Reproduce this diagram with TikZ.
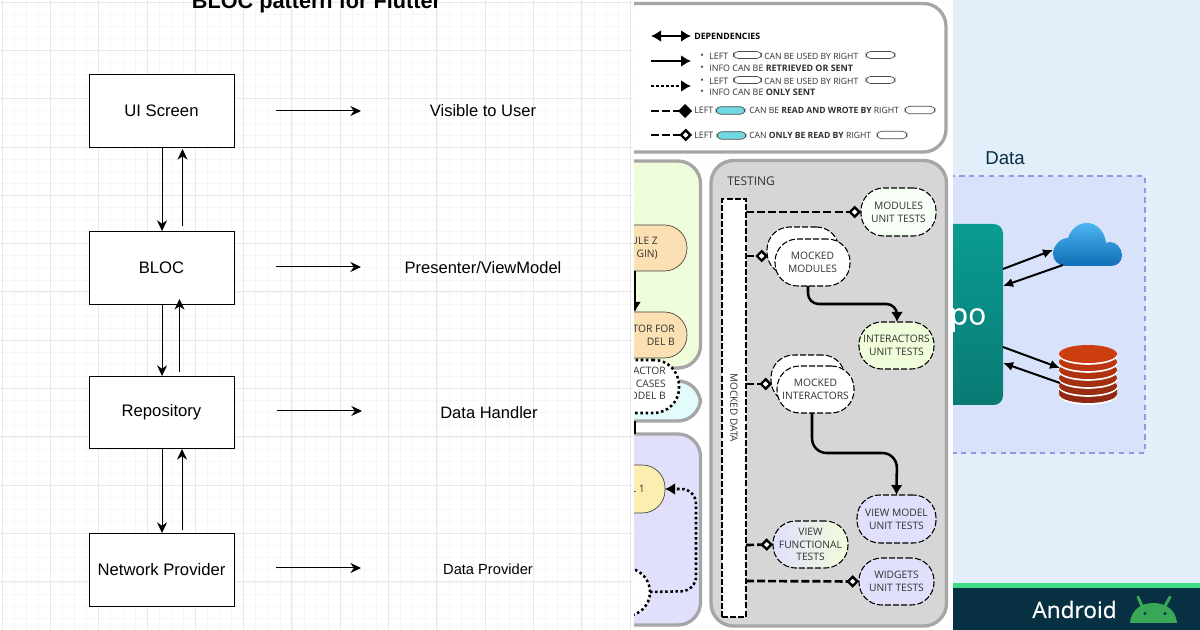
\documentclass[tikz,border=0pt]{standalone}
\usepackage{fontspec}
\setmainfont{Liberation Sans}
\newfontfamily\opn{Open Sans}
\newfontfamily\opnm[FakeBold=0.4]{Open Sans}
\usetikzlibrary{arrows.meta,calc,positioning}
\definecolor{gridmin}{HTML}{F6F6F6}
\definecolor{gridmaj}{HTML}{E8E8E8}
\definecolor{panelgray}{HTML}{A6A6A6}
\definecolor{testfill}{HTML}{D6D6D6}
\definecolor{greenfill}{HTML}{F0FDDB}
\definecolor{lilac}{HTML}{E0E0FC}
\definecolor{cyanfill}{HTML}{E2FBFB}
\definecolor{orangefill}{HTML}{FBE0B4}
\definecolor{yellowfill}{HTML}{FCEDB0}
\definecolor{pillcyan}{HTML}{6FD8E0}
\definecolor{txt}{HTML}{303030}
\definecolor{rightbg}{HTML}{E3EEFB}
\definecolor{datafill}{HTML}{D8E3FB}
\definecolor{datadash}{HTML}{8F9BE0}
\definecolor{droidgreen}{HTML}{3AA757}
\definecolor{navy}{HTML}{073042}
\definecolor{stripgreen}{HTML}{3DDC84}
\definecolor{tealtop}{HTML}{0A9C92}
\definecolor{tealbot}{HTML}{087A73}
\definecolor{cloudtop}{HTML}{4EB4F0}
\definecolor{cloudbot}{HTML}{0E6EB6}
\definecolor{dbbase}{HTML}{8F2A10}
\tikzset{
  sz/.style 2 args={minimum width=#1*0.75pt,minimum height=#2*0.75pt,inner sep=0pt,outer sep=0pt},
  flowbox/.style={draw=black,line width=0.7pt,fill=white,font=\fontsize{12.5}{15}\selectfont,align=center},
  flowarrow/.style={draw=black,line width=0.75pt,-{Stealth[length=8pt,width=7.5pt]}},
  flowlabel/.style={font=\fontsize{12.4}{15}\selectfont,inner sep=0pt},
  panel/.style={draw=panelgray,line width=2.5pt,rounded corners=17pt},
  tnode/.style={draw=black,line width=0.8pt,dash pattern=on 4.5pt off 1.6pt,rounded corners=17pt,align=center,
    text=txt,font=\opn\fontsize{7.7}{9.6}\selectfont},
  snode/.style={draw=black!75,line width=0.5pt,rounded corners=17pt,align=center,
    text=txt,font=\opn\fontsize{7.7}{9.6}\selectfont},
  frag/.style={anchor=east,inner sep=0pt,text=txt,font=\opn\fontsize{7.7}{9.6}\selectfont,align=right},
  leg/.style={font=\opn\fontsize{6.7}{8}\selectfont,text=txt,anchor=west,inner sep=0pt},
  legn/.style={leg,font=\opn\fontsize{6.45}{8}\selectfont},
  pillw/.style={draw=black!70,line width=0.5pt,fill=white,rounded corners=3.4pt,sz={29}{9}},
  pillc/.style={draw=black!70,line width=0.5pt,fill=pillcyan,rounded corners=3.4pt,sz={29}{9}},
  solidarrow/.style={draw=black,line width=1.9pt,-{Latex[length=7.5pt,width=9pt]}},
  dotarrow/.style={draw=black,line width=1.9pt,dash pattern=on 1.9pt off 1.9pt,-{Latex[length=7.5pt,width=9pt]}},
  dashdiamond/.style={draw=black,line width=2pt,dash pattern=on 6pt off 2.3pt,-{Diamond[fill=white,length=9.5pt,width=9.5pt,line width=1.8pt]}},
  fulldiamond/.style={draw=black,line width=2pt,dash pattern=on 6pt off 2.3pt,-{Diamond[length=10.5pt,width=10.5pt]}},
  dataarrow/.style={draw=black,line width=1.5pt,-{Latex[length=7.5pt,width=7pt]}},
}
\begin{document}
\begin{tikzpicture}[x=0.75pt,y=-0.75pt]
\useasboundingbox (0,0) rectangle (1200,630);
% ---------- left panel ----------
\fill[white] (0,0) rectangle (634,630);
\begin{scope}
\clip (0,0) rectangle (633,630);
\foreach \k in {0,...,53} {
  \draw[gridmin,line width=0.4pt] ({2+12.08*\k},0) -- ({2+12.08*\k},630);
  \draw[gridmin,line width=0.4pt] (0,{2+12.08*\k}) -- (633,{2+12.08*\k});
}
\foreach \k in {0,...,13} {
  \draw[gridmaj,line width=0.5pt] ({2+48.3*\k},0) -- ({2+48.3*\k},630);
  \draw[gridmaj,line width=0.5pt] (0,{2+48.3*\k}) -- (633,{2+48.3*\k});
}
\node[font=\bfseries\fontsize{16.25}{18}\selectfont,inner sep=0pt] (title) at (316.5,3) {BLOC pattern for Flutter};
\end{scope}
\node[flowbox,sz={145}{73}] (ui) at (161.5,110.5) {UI Screen};
\node[flowbox,sz={145}{73}] (bloc) at (161.5,267.5) {BLOC};
\node[flowbox,sz={145}{72}] (repo) at (161.5,412) {Repository};
\node[flowbox,sz={145}{73}] (net) at (161.5,569.5) {Network Provider};
\draw[flowarrow] ([xshift=0.4pt]ui.south) -- ([xshift=0.4pt]bloc.north);
\draw[flowarrow] ($(bloc.north)+(21,-5)$) -- ($(ui.south)+(21,2)$);
\draw[flowarrow] ([xshift=0.4pt]bloc.south) -- ([xshift=0.4pt]repo.north);
\draw[flowarrow] ($(repo.north)+(18,-4)$) -- ($(bloc.south)+(18,-5)$);
\draw[flowarrow] ([xshift=0.4pt]repo.south) -- ([xshift=0.4pt]net.north);
\draw[flowarrow] ($(net.north)+(20.5,-3)$) -- ($(repo.south)+(20.5,1)$);
\node[flowlabel] (l1) at (483,111) {Visible to User};
\node[flowlabel] (l2) at (483,268) {Presenter/ViewModel};
\node[flowlabel] (l3) at (489,412.5) {Data Handler};
\node[flowlabel,font=\fontsize{11}{13}\selectfont] (l4) at (488,569) {Data Provider};
\coordinate (a1) at (276,111); \coordinate (b1) at (361,111);
\coordinate (a2) at (276,267); \coordinate (b2) at (361,267);
\coordinate (a3) at (277,411); \coordinate (b3) at (362,411);
\coordinate (a4) at (276,568); \coordinate (b4) at (361,568);
\draw[flowarrow] (a1) -- (b1);
\draw[flowarrow] (a2) -- (b2);
\draw[flowarrow] (a3) -- (b3);
\draw[flowarrow] (a4) -- (b4);
% ---------- middle panel ----------
\begin{scope}
\clip (634,0) rectangle (953,630);
\fill[white] (634,0) rectangle (953,630);
\foreach \i in {0,...,20} \foreach \j in {0,...,39}
  \fill[black!13] ({640+16*\i},{3+16*\j}) circle (0.55);
% legend
\draw[panel,fill=white] (600,3.5) rectangle (946,152);
\coordinate (d1a) at (651,36); \coordinate (d1b) at (691,36);
\coordinate (d2a) at (651,61); \coordinate (d2b) at (691,61);
\coordinate (d3a) at (651,86); \coordinate (d3b) at (691,86);
\coordinate (d4a) at (651,111); \coordinate (d4b) at (692,111);
\coordinate (d5a) at (651,135); \coordinate (d5b) at (692,135);
\draw[solidarrow,{Latex[length=7.5pt,width=9pt]}-{Latex[length=7.5pt,width=9pt]}] (d1a) -- (d1b);
\draw[solidarrow] (d2a) -- (d2b);
\draw[dotarrow] (d3a) -- (d3b);
\draw[fulldiamond] (d4a) -- (d4b);
\draw[dashdiamond] (d5a) -- (d5b);
\node[leg,font=\opn\bfseries\fontsize{6.6}{8}\selectfont,text=black] (tdep) at (694,36) {DEPENDENCIES};
\node[leg] (b1a) at (700,56) {•};
\node[leg] (t1) at (709,56) {LEFT};
\node[pillw,sz={28}{7}] (p1) at (747.5,55) {};
\node[legn] (t2) at (764,56) {CAN BE USED BY RIGHT};
\node[pillw,sz={29}{7}] (p2) at (880.5,55) {};
\node[leg] (b1b) at (700,68) {•};
\node[leg] (t3) at (709,68) {INFO CAN BE \textbf{RETRIEVED OR SENT}};
\node[leg] (b2a) at (700,81) {•};
\node[leg] (t4) at (709,81) {LEFT};
\node[pillw,sz={28}{7}] (p3) at (747.5,80) {};
\node[legn] (t5) at (764,81) {CAN BE USED BY RIGHT};
\node[pillw,sz={29}{7}] (p4) at (880.5,80) {};
\node[leg] (b2b) at (700,92) {•};
\node[leg] (t6) at (709,92) {INFO CAN BE \textbf{ONLY SENT}};
\node[leg] (t7) at (694,110.5) {LEFT};
\node[pillc,sz={29}{7.5}] (p5) at (730.5,110.5) {};
\node[legn] (t8) at (749,110.5) {CAN BE \textbf{READ AND WROTE BY} RIGHT};
\node[pillw,sz={30}{7.5}] (p6) at (920,110) {};
\node[leg] (t9) at (694,135.5) {LEFT};
\node[pillc,sz={29}{7.5}] (p7) at (731.5,135.5) {};
\node[legn] (t10) at (749,135.5) {CAN \textbf{ONLY BE READ BY} RIGHT};
\node[pillw,sz={30}{7.5}] (p8) at (892,135) {};
% left panels
\draw[panel,fill=greenfill] (600,161) rectangle (700.5,368);
\draw[panel,fill=cyanfill] (600,381) rectangle (700.5,421);
\draw[panel,fill=lilac] (600,434) rectangle (700.5,625);
\node[snode,fill=orangefill,sz={120}{46}] (modz) at (627,248) {};
\node[frag] (modzt) at (658,248) {ULE Z\\GIN)\hspace{2.2pt}};
\node[snode,fill=orangefill,sz={120}{46}] (inter) at (627,335) {};
\node[frag] (intert) at (675,335) {TOR FOR\\DEL B\hspace{14pt}};
\draw[solidarrow,line width=2.2pt] (modz.south -| 635,271) -- (inter.north -| 635,312);
\node[draw=black,line width=1.9pt,dash pattern=on 1.9pt off 2pt,fill=white,rounded corners=19pt,sz={110}{53}] (dotnode) at (624,386.5) {};
\node[frag] (dott) at (666,383.5) {ACTOR\hspace{2.2pt}\\CASES\hspace{3pt}\\ODEL B};
\draw[line width=2.2pt] (635,421) -- (635,434);
\node[snode,fill=yellowfill,sz={100}{48}] (model1) at (615,489) {};
\node[frag] (model1t) at (645,489) {L 1};
\node[draw=black,line width=1.9pt,dash pattern=on 1.9pt off 2pt,fill=white,rounded corners=18pt,sz={80}{48}] (white1) at (610,592) {};
\draw[dotarrow,rounded corners=11pt] (white1.east) -- (696,591) -- (696,489) -- (model1.east);
% testing
\draw[panel,fill=testfill] (711,160.5) rectangle (946.5,626);
\node[anchor=west,inner sep=0pt,text=txt,font=\opn\fontsize{9}{11}\selectfont] (ttest) at (727,181.5) {TESTING};
\node[draw=black,line width=0.8pt,dash pattern=on 4.5pt off 1.6pt,fill=white,sz={24}{418}] (mock) at (734,408) {};
\node[rotate=-90,inner sep=0pt,text=txt,font=\opn\fontsize{7.5}{9}\selectfont] (mockt) at (734,408) {MOCKED DATA};
\node[tnode,fill=black!6!green!3!white,sz={75}{48}] (t-mod) at (898.5,212) {MODULES\\UNIT TESTS};
\node[tnode,fill=white,sz={72}{48}] (mm2) at (803,251) {};
\node[tnode,fill=white,sz={75}{47}] (mm1) at (812.5,262.5) {MOCKED\\MODULES};
\node[tnode,fill=greenfill,sz={75}{47}] (t-int) at (896.5,345.5) {INTERACTORS\\UNIT TESTS};
\node[tnode,fill=white,sz={74}{48}] (mi2) at (808,379) {};
\node[tnode,fill=white,sz={77}{47}] (mi1) at (815.5,389.5) {MOCKED\\INTERACTORS};
\node[tnode,fill=lilac,sz={79}{48}] (t-vm) at (896.5,519) {VIEW MODEL\\UNIT TESTS};
\node[tnode,left color=lilac,right color=greenfill,sz={75}{47}] (t-view) at (810.5,544.5) {VIEW\\FUNCTIONAL\\TESTS};
\node[tnode,fill=lilac,sz={75}{47}] (t-wid) at (896.5,581.5) {WIDGETS\\UNIT TESTS};
\coordinate (s1) at (746,212); \coordinate (s2) at (746,256); \coordinate (s3) at (746,384);
\coordinate (s4) at (746,545); \coordinate (s5) at (746,581);
\draw[dashdiamond] (s1) -- (t-mod.west);
\draw[dashdiamond] (s2) -- ($(mm2.west)+(1,5)$);
\draw[dashdiamond] (s3) -- ($(mi2.west)+(1,5)$);
\draw[dashdiamond] (s4) -- (t-view.west);
\draw[dashdiamond] (s5) -- (t-wid.west);
\draw[solidarrow,rounded corners=8pt] ($(mm1.south)+(-4.5,0)$) -- (808,304) -- (897,304) -- ($(t-int.north)+(0.5,0)$);
\draw[solidarrow,rounded corners=11pt] ($(mi1.south)+(-3.5,0)$) -- (812,453) -- (897,453) -- (t-vm.north);
\end{scope}
% ---------- right panel ----------
\begin{scope}
\clip (953,0) rectangle (1200,630);
\fill[rightbg] (953,0) rectangle (1200,630);
\fill[datafill] (900,176) rectangle (1145,453);
\draw[datadash,line width=0.9pt,dash pattern=on 4pt off 3.4pt] (900,176) -- (1145,176) -- (1145,453) -- (900,453);
\node[inner sep=0pt,text=navy,font=\fontsize{14}{16}\selectfont] (datal) at (1005,158) {Data};
\shade[top color=tealtop,bottom color=tealbot,rounded corners=7pt] (900,224) rectangle (1003,405);
\node[inner sep=0pt,text=white,font=\opnm\fontsize{22.5}{26}\selectfont] (po) at (968,320) {po};
\shade[top color=cloudtop,bottom color=cloudbot]
 (1066,266) -- (1111,266) .. controls (1118,266) and (1122,261) .. (1122,255) .. controls (1122,248) and (1116,242) .. (1110,242) .. controls (1108,242) and (1107,243) .. (1106,243) .. controls (1105,232) and (1097,223) .. (1087,223) .. controls (1078,223) and (1071,229) .. (1068,238) .. controls (1060,238) and (1053,246) .. (1053,254) .. controls (1053,261) and (1059,266) .. (1066,266) -- cycle;
\coordinate (cloudin) at (1053,250);
\coordinate (cloudout) at (1063,265);
\fill[dbbase] (1059,394) arc[start angle=180,end angle=360,x radius=29,y radius=9] -- (1117,390) -- (1059,390) -- cycle;
\foreach \yy/\cc in {394/8F2A10,386/9A2D10,378/A53010,370/B03310,362/BC3710,354/CC3D10} {
  \definecolor{dbc}{HTML}{\cc}
  \fill[white] (1088,\yy+1.8) ellipse[x radius=29,y radius=9];
  \fill[dbc] (1088,\yy) ellipse[x radius=29,y radius=9];
}
\coordinate (dbin) at (1060,368);
\coordinate (dbout) at (1060,383);
\coordinate (r1) at (1003,269);
\coordinate (r2) at (1003,286);
\coordinate (r3) at (1003,347);
\coordinate (r4) at (1003,363);
\draw[dataarrow] (r1) -- (cloudin);
\draw[dataarrow] (cloudout) -- (r2);
\draw[dataarrow] (r3) -- (dbin);
\draw[dataarrow] (dbout) -- (r4);
\fill[stripgreen] (953,583) rectangle (1200,588);
\fill[navy] (953,588) rectangle (1200,630);
\node[inner sep=0pt,text=white,font=\opnm\fontsize{17}{20}\selectfont] (android) at (1074.5,609.5) {Android};
\draw[droidgreen,line width=2.2pt,line cap=round] (1142,606) -- (1138,597);
\draw[droidgreen,line width=2.2pt,line cap=round] (1165,606) -- (1170,597);
\fill[droidgreen] (1130,623) .. controls (1131,610) and (1141,603) .. (1153.5,603) .. controls (1166,603) and (1176,610) .. (1177,623) -- cycle;
\fill[navy] (1145,613.5) circle (1.6);
\fill[navy] (1165,613.5) circle (1.6);
\end{scope}
\end{tikzpicture}
\end{document}
